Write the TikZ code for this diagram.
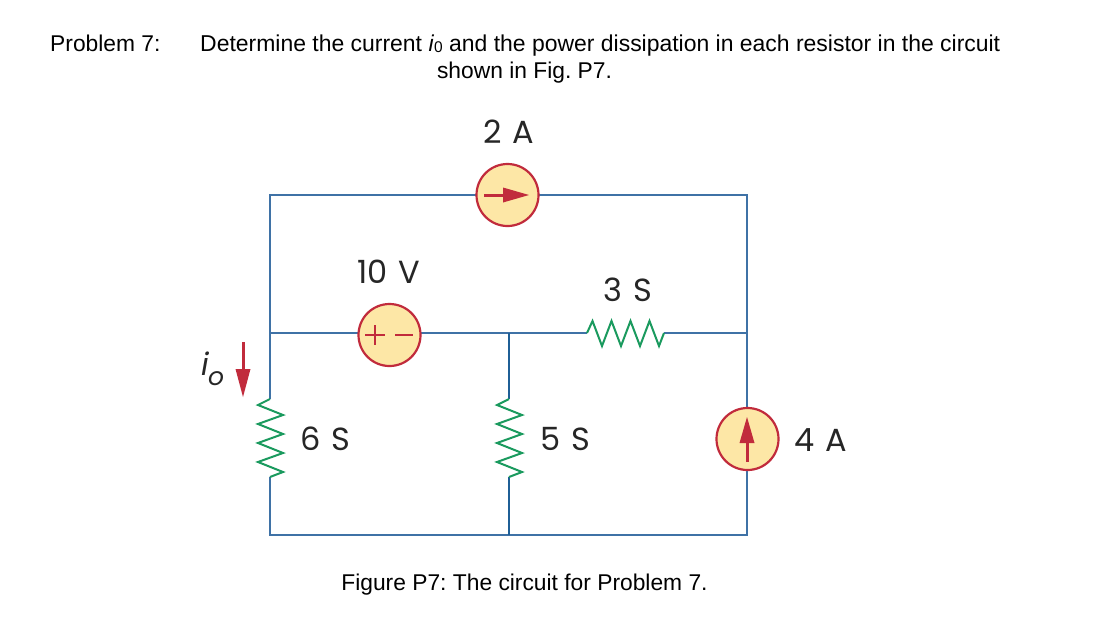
\documentclass[tikz,border=0pt]{standalone}
\usepackage{fontspec}
\setmainfont{Liberation Sans}
\newfontfamily\ckt{Poppins}
\usetikzlibrary{calc}
\frenchspacing
\definecolor{wirec}{HTML}{3F72A6}
\definecolor{wired}{HTML}{1F5F96}
\definecolor{srcred}{HTML}{C12B3C}
\definecolor{srcfill}{HTML}{FDE7A6}
\definecolor{resg}{HTML}{1A9A5E}
\definecolor{inkc}{HTML}{262626}
\newcommand{\gapA}{\hspace{11pt}}
\tikzset{
  x=1pt,y=-1pt,
  wire/.style={draw=wirec,line width=2.2pt},
  wired/.style={draw=wired,line width=2.2pt},
  res/.style={draw=resg,line width=2pt,line join=miter},
  srcc/.style={circle,draw=srcred,fill=srcfill,line width=2.2pt,minimum size=62pt,inner sep=0pt},
  redl/.style={draw=srcred,line width=3pt},
  redh/.style={fill=srcred,draw=none},
  sym/.style={draw=srcred,line width=1.8pt},
  body/.style={text=black,font=\fontsize{22.8}{27}\selectfont,inner sep=0pt,anchor=base},
  cktl/.style={text=inkc,font=\ckt\fontsize{32}{38}\selectfont,inner sep=0pt,anchor=base},
}
\begin{document}
\begin{tikzpicture}
\useasboundingbox[fill=white] (0,0) rectangle (1106,624);
% corners and junctions
\coordinate (tl) at (270,195);
\coordinate (tr) at (747,195);
\coordinate (ml) at (270,333);
\coordinate (mm) at (509,333);
\coordinate (mr) at (747,333);
\coordinate (bl) at (270,535);
\coordinate (bm) at (509,535);
\coordinate (br) at (747,535);
\coordinate (r6t) at (270,399);
\coordinate (r6b) at (270,477);
\coordinate (r5t) at (509,399);
\coordinate (r5b) at (509,477);
\coordinate (r3l) at (587,333);
\coordinate (r3r) at (664,333);
% wires
\draw[wire] (ml) -- (tl) -- (tr) -- (mr);
\draw[wire] (ml) -- (r3l);
\draw[wire] (r3r) -- (mr);
\draw[wire] (ml) -- (r6t);
\draw[wire] (r6b) -- (bl) -- (br) -- (mr);
\draw[wired] (mm) -- (r5t);
\draw[wired] (r5b) -- (bm);
% sources
\node[srcc] (s2) at (507.5,195) {};
\node[srcc] (s10) at (389.5,335) {};
\node[srcc] (s4) at (747.5,439) {};
% resistors
\draw[res] (r6t) -- ++(-12,6) -- ++(25,10) -- ++(-25,9) -- ++(25,10) -- ++(-25,9) -- ++(25,10) -- ++(-25,9) -- ++(25,10) -- (r6b);
\draw[res] (r5t) -- ++(-12,6) -- ++(25,10) -- ++(-25,9) -- ++(25,10) -- ++(-25,9) -- ++(25,10) -- ++(-25,9) -- ++(25,10) -- (r5b);
\draw[res] (r3l) -- ++(5.5,-12) -- ++(9.5,25) -- ++(9.5,-25) -- ++(9.5,25) -- ++(9.5,-25) -- ++(9.5,25) -- ++(9.5,-25) -- ++(9.5,25) -- (r3r);
% source symbols
\draw[redl] ($(s2.center)+(-23.5,0)$) -- ($(s2.center)+(-2,0)$);
\fill[redh] ($(s2.center)+(-4.5,-7.5)$) -- ($(s2.center)+(21.5,0)$) -- ($(s2.center)+(-4.5,7.5)$) -- cycle;
\draw[redl] ($(s4.center)+(-0.5,23)$) -- ($(s4.center)+(-0.5,2)$);
\fill[redh] ($(s4.center)+(-8,4)$) -- ($(s4.center)+(-0.5,-22)$) -- ($(s4.center)+(7,4)$) -- cycle;
\draw[sym] ($(s10.center)+(-24.5,0)$) -- ($(s10.center)+(-4.5,0)$);
\draw[sym] ($(s10.center)+(-14.5,-10)$) -- ($(s10.center)+(-14.5,10)$);
\draw[sym] ($(s10.center)+(5.5,0)$) -- ($(s10.center)+(23.5,0)$);
% io arrow
\coordinate (ioa) at (243,342);
\coordinate (iob) at (243,372);
\draw[redl] (ioa) -- (iob);
\fill[redh] (235.5,369) -- (243,397) -- (250.5,369) -- cycle;
% labels
\node[cktl] (l2) at (509,143.5) {2\gapA A};
\node[cktl] (l10) at (388.5,283) {10\gapA V};
\node[cktl] (l3) at (628,301.5) {3\gapA S};
\node[cktl] (l6) at (325.5,450.5) {6\gapA S};
\node[cktl] (l5) at (565.5,450.5) {5\gapA S};
\node[cktl] (l4) at (820.5,451.5) {4\gapA A};
\node[cktl,font=\ckt\itshape\fontsize{31}{36}\selectfont] (li) at (205,375) {i};
\node[cktl,font=\ckt\itshape\fontsize{25}{30}\selectfont] (lo) at (216,385) {o};
% texts
\node[body,anchor=base west] (p) at (50,51) {Problem 7:};
\node[body,anchor=base west,font=\fontsize{22.95}{27}\selectfont] (q1) at (200,51) {Determine the current \textit{i}\raisebox{-1pt}{\fontsize{15.5}{18}\selectfont 0} and the power dissipation in each resistor in the circuit};
\node[body] (q2) at (524.5,78) {shown in Fig. P7.};
\node[body] (cap) at (524.5,590) {Figure P7: The circuit for Problem 7.};
\end{tikzpicture}
\end{document}
